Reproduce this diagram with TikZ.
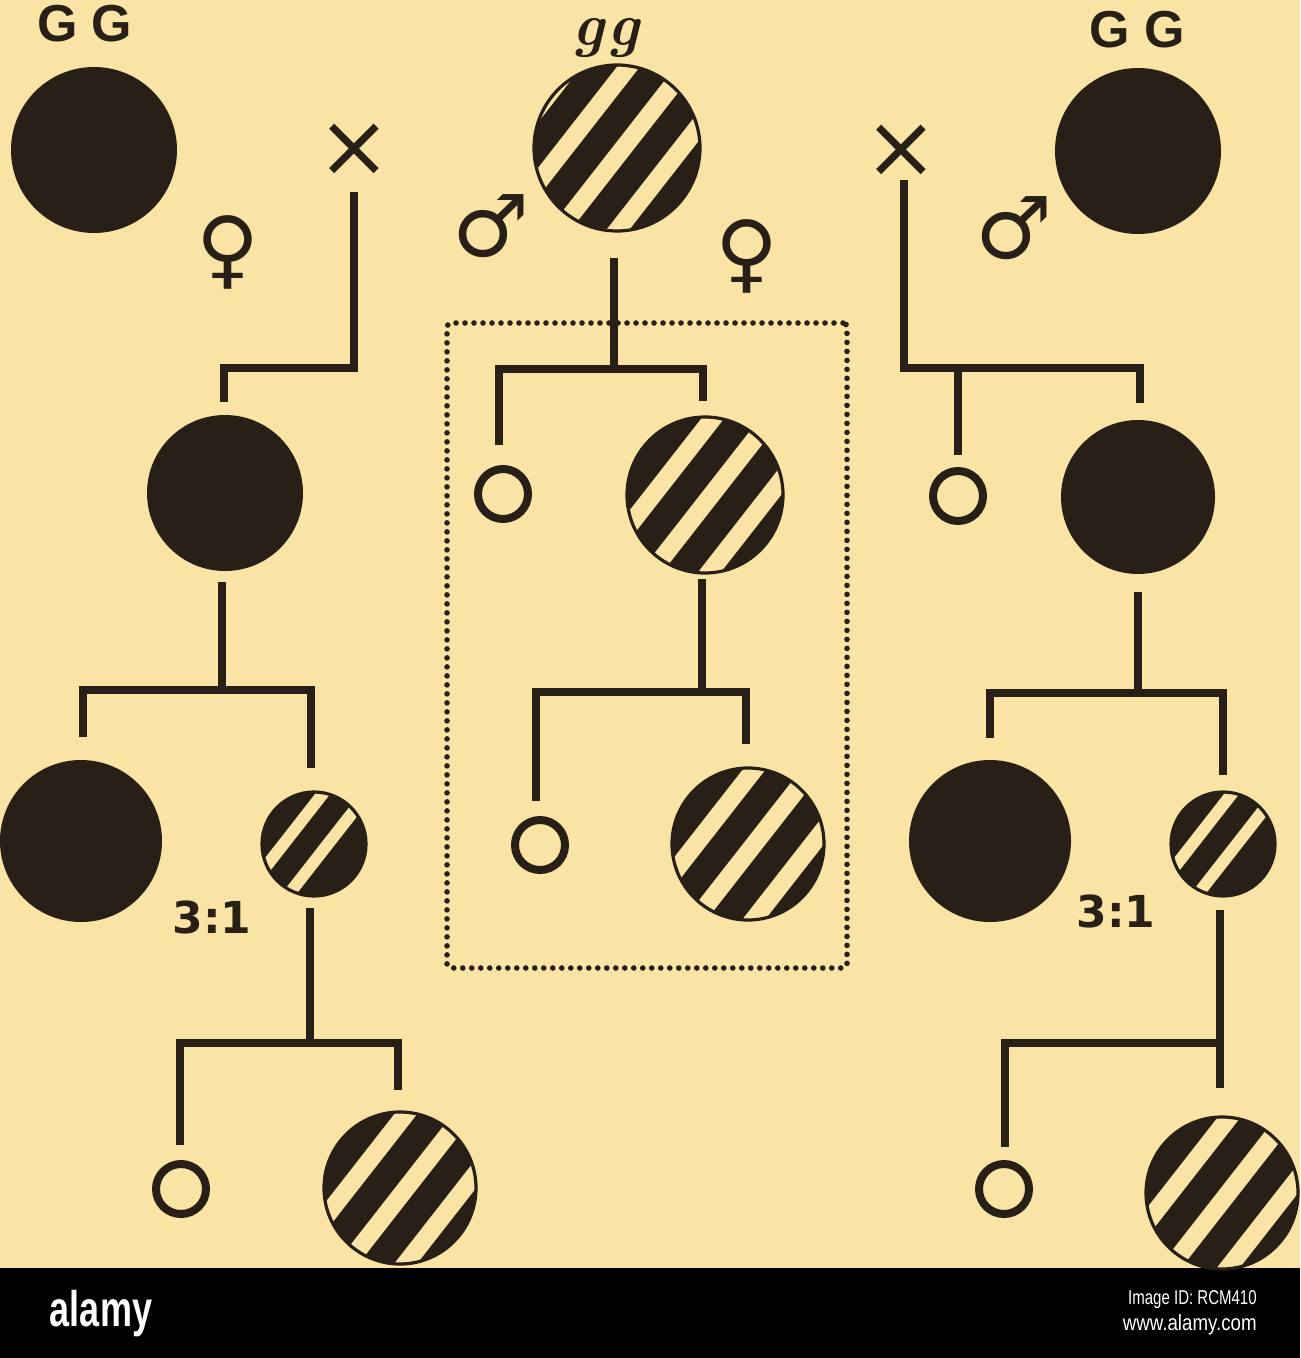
\documentclass[tikz,border=0pt]{standalone}
\usepackage{fontspec}
\newfontfamily\labfont{Liberation Sans}
\newfontfamily\symfont{DejaVu Sans}
\definecolor{paper}{RGB}{249,228,166}
\definecolor{ink}{RGB}{40,32,22}
\newcommand{\zebra}[6]{%
  \node[dark=#4] (#1) at (#2,#3) {};
  \begin{scope}
    \clip (#2,#3) circle (#4);
    \foreach \ofs in {#5}
      \fill[paper, shift={(#2,#3)}, rotate=52] (-130,\ofs-#6/2) rectangle (130,\ofs+#6/2);
  \end{scope}
  \draw[ink, line width=1.6pt] (#2,#3) circle (#4);
}
\begin{document}
\begin{tikzpicture}[x=0.5pt,y=-0.5pt,
  link/.style={draw=ink, line width=4.3pt},
  dark/.style={circle, fill=ink, inner sep=0pt, outer sep=0pt, minimum size=#1pt},
  hollow/.style={circle, draw=ink, line width=4pt, inner sep=0pt, outer sep=0pt, minimum size=25pt},
  lab/.style={text=ink, inner sep=0pt, outer sep=0pt},
  gtext/.style={lab, font=\labfont\bfseries\fontsize{26}{26}\selectfont},
  ratio/.style={lab, font=\symfont\bfseries\fontsize{22}{22}\selectfont},
  sex/.style={lab, font=\symfont\fontsize{43}{43}\selectfont},
  cross/.style={lab, font=\symfont\fontsize{44}{44}\selectfont},
  dotbox/.style={draw=ink, line width=2.8pt, line cap=round, dash pattern=on 0pt off 4.5pt, rounded corners=2pt, inner sep=0pt, minimum width=200pt, minimum height=322.5pt}]
\useasboundingbox (0,0) rectangle (1300,1358);
\fill[paper] (0,0) rectangle (1300,1268);
\fill[black] (0,1268) rectangle (1300,1358);

% ---------- labels ----------
\node[gtext] (gl) at (85,24) {G\hspace{7pt}G};
\node[lab, inner sep=1pt, font=\bfseries\itshape\fontsize{30}{30}\selectfont] (gc) at (606,38) {g\hspace{2pt}g};
\node[gtext] (gr) at (1137,30) {G\hspace{7pt}G};

% ---------- parents ----------
\node[dark=83] (pl) at (94,150) {};
\zebra{pc}{617}{148}{83}{-87,-41,5,51}{18}
\node[dark=83] (pr) at (1138,151) {};

\node[cross] (xl) at (354,150) {×};
\node[cross] (xr) at (901,151) {×};
\node[sex] (fl) at (228,252) {♀};
\node[sex] (mc) at (491,226) {♂};
\node[sex] (fc) at (747,256) {♀};
\node[sex] (mr) at (1014,228) {♂};

% ---------- left pedigree ----------
\coordinate (la1) at (354,192);
\coordinate (la2) at (354,368);
\coordinate (la3) at (224,368);
\coordinate (la4) at (224,402);
\draw[link] (la1) -- (la2) -- (la3) -- (la4);
\node[dark=78] (l1) at (225,493) {};
\coordinate (lb1) at (222,582);
\coordinate (lb2) at (222,690);
\coordinate (lbL) at (83,690);
\coordinate (lbLd) at (83,737);
\coordinate (lbR) at (311,690);
\coordinate (lbRd) at (311,768);
\draw[link] (lb1) -- (lb2);
\draw[link] (lbLd) -- (lbL) -- (lbR) -- (lbRd);
\node[dark=81] (l2a) at (81,841) {};
\zebra{l2b}{314}{844}{52}{-24,11}{12}
\node[ratio] (rl) at (212,917) {3:1};
\coordinate (lc1) at (310,908);
\coordinate (lc2) at (310,1043);
\coordinate (lcL) at (180,1043);
\coordinate (lcLd) at (180,1145);
\coordinate (lcR) at (398,1043);
\coordinate (lcRd) at (398,1090);
\draw[link] (lc1) -- (lc2);
\draw[link] (lcLd) -- (lcL) -- (lcR) -- (lcRd);
\node[hollow] (l3a) at (181,1189) {};
\zebra{l3b}{400}{1188}{76}{-87,-41,5,51}{18}

% ---------- centre pedigree ----------
\node[dotbox] (box) at (647,645.5) {};
\coordinate (ca1) at (614,258);
\coordinate (ca2) at (614,369);
\coordinate (caL) at (499,369);
\coordinate (caLd) at (499,445);
\coordinate (caR) at (703,369);
\coordinate (caRd) at (703,401);
\draw[link] (ca1) -- (ca2);
\draw[link] (caLd) -- (caL) -- (caR) -- (caRd);
\node[hollow] (c1a) at (503,494) {};
\zebra{c1b}{705}{495}{78}{-87,-41,5,51}{18}
\coordinate (cb1) at (702,579);
\coordinate (cb2) at (702,692);
\coordinate (cbL) at (536,692);
\coordinate (cbLd) at (536,801);
\coordinate (cbR) at (746,692);
\coordinate (cbRd) at (746,744);
\draw[link] (cb1) -- (cb2);
\draw[link] (cbLd) -- (cbL) -- (cbR) -- (cbRd);
\node[hollow] (c2a) at (540,845) {};
\zebra{c2b}{748}{844}{76}{-87,-41,5,51}{18}

% ---------- right pedigree ----------
\coordinate (ra1) at (904,180);
\coordinate (ra2) at (904,368);
\coordinate (ra3) at (1140,368);
\coordinate (ra4) at (1140,403);
\coordinate (raL) at (958,368);
\coordinate (raLd) at (958,455);
\draw[link] (ra1) -- (ra2) -- (ra3) -- (ra4);
\draw[link] (raL) -- (raLd);
\node[hollow] (r1a) at (958,496) {};
\node[dark=77] (r1b) at (1138,497) {};
\coordinate (rb1) at (1138,592);
\coordinate (rb2) at (1138,693);
\coordinate (rbL) at (990,693);
\coordinate (rbLd) at (990,738);
\coordinate (rbR) at (1223,693);
\coordinate (rbRd) at (1223,775);
\draw[link] (rb1) -- (rb2);
\draw[link] (rbLd) -- (rbL) -- (rbR) -- (rbRd);
\node[dark=81] (r2a) at (990,841) {};
\zebra{r2b}{1223}{844}{52}{-24,11}{12}
\node[ratio] (rr) at (1116,911) {3:1};
\coordinate (rc1) at (1220,910);
\coordinate (rc2) at (1220,1043);
\coordinate (rc3) at (1220,1088);
\coordinate (rcL) at (1005,1043);
\coordinate (rcLd) at (1005,1147);
\draw[link] (rc1) -- (rc3);
\draw[link] (rcLd) -- (rcL) -- (rc2);
\node[hollow] (r3a) at (1004,1189) {};
\zebra{r3b}{1222}{1193}{76}{-87,-41,5,51}{18}

% ---------- footer band ----------
\node[text=white, inner sep=0pt, font=\labfont\bfseries\fontsize{25}{25}\selectfont] (logo) at (101,1314) {\scalebox{0.72}[1]{alamy}};
\node[text=white, inner sep=0pt, anchor=east, font=\labfont\fontsize{10}{10}\selectfont] (imgid) at (1257,1300) {\scalebox{0.75}[1]{Image ID: RCM410}};
\node[text=white, inner sep=0pt, anchor=east, font=\labfont\fontsize{11}{11}\selectfont] (url) at (1257,1325) {\scalebox{0.85}[1]{www.alamy.com}};
\end{tikzpicture}
\end{document}
